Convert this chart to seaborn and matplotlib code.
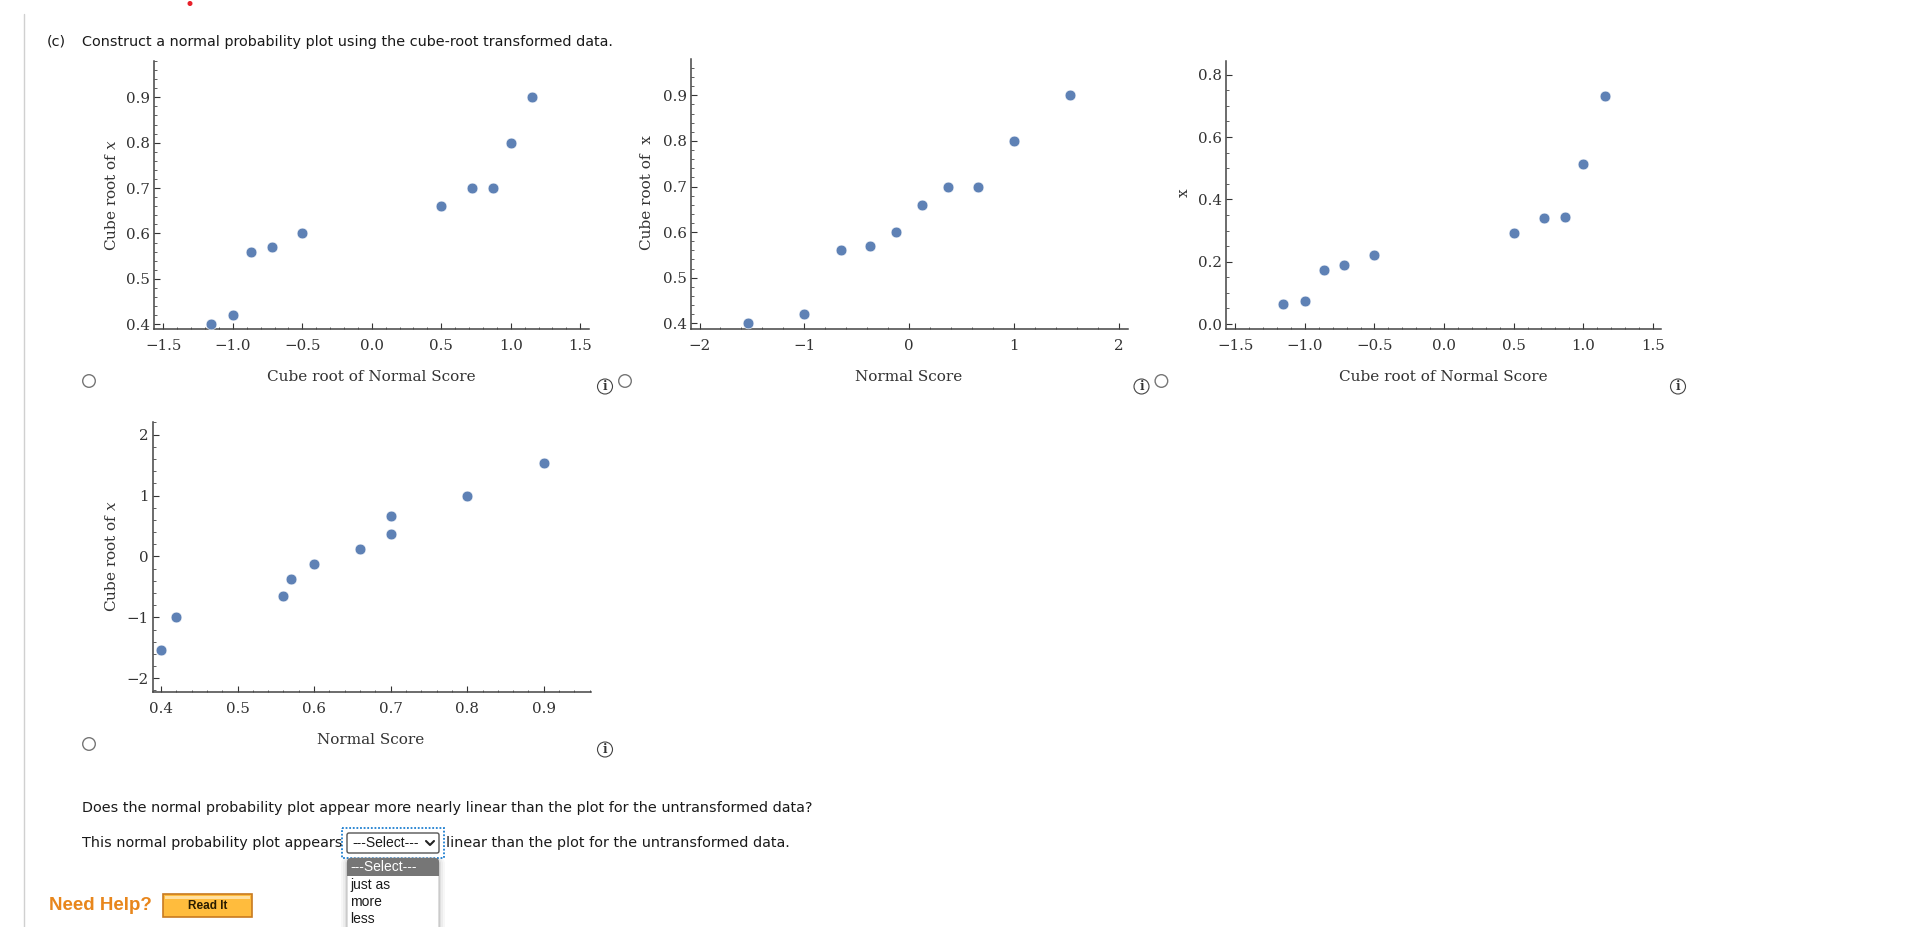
"""Normal probability plots of cube-root transformed data, answer-choice page layout."""

import matplotlib

matplotlib.use("Agg")
import matplotlib.pyplot as plt
import seaborn as sns
from matplotlib.patches import Circle, FancyBboxPatch, Rectangle
from matplotlib.ticker import FuncFormatter, MultipleLocator

W, H = 1911, 927

normal_score = [-1.54, -1.0, -0.654, -0.373, -0.124, 0.128, 0.376, 0.657, 1.0, 1.54]
cuberoot_normal = [-1.155, -1.0, -0.866, -0.72, -0.5, 0.5, 0.72, 0.87, 1.0, 1.155]
cuberoot_x = [0.40, 0.42, 0.56, 0.57, 0.60, 0.66, 0.70, 0.70, 0.80, 0.90]
raw_x = [0.064, 0.073, 0.174, 0.188, 0.221, 0.293, 0.339, 0.342, 0.514, 0.731]

DOT = "#5E81B5"
INK = "#333333"
UI_INK = "#1a1a1a"

sns.set_theme(style="white")
plt.rcParams["font.family"] = ["DejaVu Serif"]
plt.rcParams["mathtext.fontset"] = "dejavuserif"

fig = plt.figure(figsize=(W / 100, H / 100), dpi=100, facecolor="white")


def tick_format(decimals):
    """Tick text with a real minus sign, no negative zero."""
    def fmt(value, _pos):
        text = f"{abs(value):.{decimals}f}"
        if value < 0 and float(text) != 0:
            return "\u2212" + text
        return text
    return FuncFormatter(fmt)


def panel(box, xs, ys, xlim, ylim, xlabel, ylabel, xticks, yticks, xdec, ydec, xlab_pos, ylab_pos):
    """One scatter panel; box is left, right, top, bottom in page pixels."""
    left, right, top, bottom = box
    ax = fig.add_axes([left / W, 1 - bottom / H, (right - left) / W, (bottom - top) / H])
    sns.scatterplot(x=xs, y=ys, ax=ax, color=DOT, s=60, edgecolor="white", linewidth=0.4, clip_on=False, zorder=3)
    ax.set_xlim(*xlim)
    ax.set_ylim(*ylim)
    sns.despine(ax=ax)
    for side in ("left", "bottom"):
        ax.spines[side].set_color("#444444")
        ax.spines[side].set_linewidth(1.1)
    ax.xaxis.set_major_locator(MultipleLocator(xticks[0]))
    ax.xaxis.set_minor_locator(MultipleLocator(xticks[1]))
    ax.yaxis.set_major_locator(MultipleLocator(yticks[0]))
    ax.yaxis.set_minor_locator(MultipleLocator(yticks[1]))
    ax.xaxis.set_major_formatter(tick_format(xdec))
    ax.yaxis.set_major_formatter(tick_format(ydec))
    ax.tick_params(which="major", direction="in", length=4, width=0.8, color="#333333", labelsize=10.8, labelcolor=INK, bottom=True, left=True)
    ax.tick_params(which="minor", direction="in", length=1.8, width=0.6, color="#444444", bottom=True, left=True)
    ax.tick_params(axis="x", which="major", pad=7.5)
    ax.tick_params(axis="y", which="major", pad=3)
    ax.set_xlabel(xlabel, fontsize=11, color=INK)
    ax.set_ylabel(ylabel, fontsize=11, color=INK)
    ax.xaxis.set_label_coords((xlab_pos[0] - left) / (right - left), (bottom - xlab_pos[1]) / (bottom - top), transform=ax.transAxes)
    ax.yaxis.set_label_coords((ylab_pos[0] - left) / (right - left), (bottom - ylab_pos[1]) / (bottom - top), transform=ax.transAxes)
    ax.xaxis.label.set_verticalalignment("center")
    ax.yaxis.label.set_verticalalignment("center")
    return ax


panel((154.3, 588.6, 61, 329), cuberoot_normal, cuberoot_x, (-1.565, 1.56), (0.3896, 0.98),
      "Cube root of Normal Score", "Cube root of $x$", (0.5, 0.1), (0.1, 0.02), 1, 1, (371, 377), (111, 195))
panel((690.7, 1128.1, 59.3, 329), normal_score, cuberoot_x, (-2.084, 2.09), (0.3875, 0.979),
      "Normal Score", "Cube root of  x", (1, 0.2), (0.1, 0.02), 0, 1, (908.5, 377), (647, 193))
panel((1226.4, 1660.8, 61, 329), cuberoot_normal, raw_x, (-1.564, 1.558), (-0.016, 0.844),
      "Cube root of Normal Score", "x", (0.5, 0.1), (0.2, 0.05), 1, 1, (1443, 377), (1183.6, 193))
panel((152.6, 591.2, 421.7, 692), cuberoot_x, normal_score, (0.389, 0.962), (-2.225, 2.213),
      "Normal Score", "Cube root of $x$", (0.1, 0.02), (1, 0.2), 1, 0, (370.8, 740), (111, 556))

# page furniture drawn in pixel coordinates on a transparent overlay
page = fig.add_axes([0, 0, 1, 1], facecolor="none")
page.set_xlim(0, W)
page.set_ylim(H, 0)
page.axis("off")

page.plot([23.7, 23.7], [14, H], color="#d0d0d0", lw=1)
page.add_patch(Circle((190, 3.5), 1.8, color="#e8202a"))

UI = dict(family="DejaVu Sans", fontsize=10.35, color=UI_INK, va="center")
page.text(47, 41.5, "(c)", **UI)
page.text(82.4, 41.5, "Construct a normal probability plot using the cube-root transformed data.", **UI)
page.text(82.4, 808, "Does the normal probability plot appear more nearly linear than the plot for the untransformed data?", **UI)
page.text(82.4, 843, "This normal probability plot appears", **UI)
page.text(446, 843, "linear than the plot for the untransformed data.", **UI)

for cx, cy in [(89, 381), (625, 381), (1161.4, 381), (89, 744)]:
    page.add_patch(Circle((cx, cy), 6.3, fc="white", ec="#767676", lw=1))
for cx, cy in [(605, 386.5), (1141.5, 386.5), (1678, 386.5), (605, 749.5)]:
    page.add_patch(Circle((cx, cy), 7.5, fc="white", ec="#444444", lw=0.8))
    page.text(cx, cy + 0.3, "i", family="DejaVu Serif", fontsize=8.5, fontweight="bold", color="#333333", ha="center", va="center")

# select box and its open list
page.add_patch(Rectangle((342, 828), 102, 30, fc="none", ec="#1f7fd0", lw=1.3, ls=(0, (1, 1))))
page.add_patch(FancyBboxPatch((347, 833), 92, 20, boxstyle="round,pad=0,rounding_size=2", fc="white", ec="#555555", lw=1))
SEL = dict(family="Liberation Sans", fontsize=10, va="center")
page.text(352, 843, "---Select---", color=UI_INK, **SEL)
page.plot([426, 430, 434], [841, 845, 841], color="#222222", lw=1.5)

for grow, alpha in [(6, 0.03), (4, 0.04), (2, 0.06)]:
    page.add_patch(FancyBboxPatch((347 - grow, 858), 92 + 2 * grow, 90, boxstyle="round,pad=0,rounding_size=6", fc="black", ec="none", alpha=alpha))
page.add_patch(FancyBboxPatch((347, 858), 92, 90, boxstyle="round,pad=0,rounding_size=6", fc="white", ec="#b0b0b0", lw=0.6))
page.add_patch(FancyBboxPatch((347, 858), 92, 18, boxstyle="round,pad=0,rounding_size=4", fc="#767676", ec="none"))
page.add_patch(Rectangle((347, 867), 92, 9, fc="#767676", ec="none"))
page.text(350, 867, "---Select---", color="white", **SEL)
page.text(350, 884.5, "just as", color=UI_INK, **SEL)
page.text(350, 902, "more", color=UI_INK, **SEL)
page.text(350, 919, "less", color=UI_INK, **SEL)

page.text(49, 905, "Need Help?", family="Liberation Sans", fontsize=13.5, fontweight="bold", color="#E8861C", va="center")
page.add_patch(Rectangle((163, 894), 89, 23, fc="#FFBC3D", ec="#C87A20", lw=1.2))
page.add_patch(Rectangle((165, 896), 85, 3, fc="#FFE0A0", ec="none"))
page.text(207.5, 906, "Read It", family="Liberation Sans", fontsize=8.5, fontweight="bold", color="#2a1c00", ha="center", va="center")

fig.savefig("out.png", dpi=100)
